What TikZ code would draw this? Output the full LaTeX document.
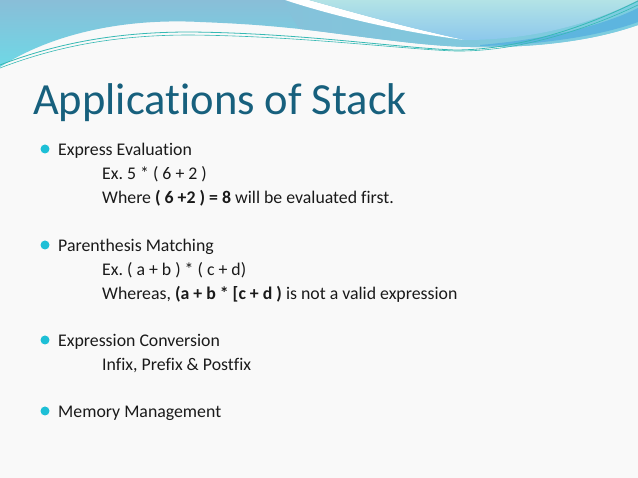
\documentclass[tikz,border=0pt]{standalone}
\usepackage{fontspec}
\setmainfont{Carlito}[Ligatures={NoCommon}]
\definecolor{slidebg}{HTML}{F9F9F9}
\definecolor{titleblue}{HTML}{17607D}
\definecolor{bodytext}{HTML}{1A1A1A}
\definecolor{bulletcyan}{HTML}{1DBFD6}
\definecolor{wavetop}{HTML}{89BED8}
\definecolor{wavelow}{HTML}{6ED8E6}
\definecolor{waveright}{HTML}{7CCEE0}
\definecolor{paletop}{HTML}{B3E3E6}
\definecolor{palelow}{HTML}{8CC8EC}
\definecolor{bandblue}{HTML}{5DB5DF}
\definecolor{tealline}{HTML}{36B9B4}

\tikzset{
  headline/.style={anchor=base west, inner sep=0pt, text=titleblue,
    font=\fontsize{44.5}{52}\selectfont},
  point/.style={anchor=base west, inner sep=0pt, text=bodytext,
    font=\fontsize{17.8}{21}\selectfont},
  dot/.style={circle, fill=bulletcyan, minimum size=9pt, inner sep=0pt}
}

\begin{document}
\frenchspacing
\begin{tikzpicture}[x=1pt,y=-1pt]
\useasboundingbox (0,0) rectangle (638,478);
\fill [slidebg] (0,0) rectangle (638,478);
% waves at the top
\shade [top color=wavetop, bottom color=wavelow]
  (0,0) -- (638,0) -- (638,25) .. controls (590,42) and (530,48) .. (470,47)
  .. controls (420,46) and (360,36) .. (300,29)
  .. controls (270,26) and (250,24) .. (200,22)
  .. controls (120,18) and (50,35) .. (0,67) -- cycle;
\shade [left color=wavetop!85!wavelow, right color=waveright]
  (285,0) .. controls (330,15) and (400,32) .. (465,40)
  .. controls (530,40) and (590,25) .. (638,1) -- (638,25)
  .. controls (590,42) and (530,48) .. (470,47)
  .. controls (420,46) and (360,36) .. (300,29)
  .. controls (292,20) and (288,8) .. (285,0) -- cycle;
\fill [white]
  (285,0) .. controls (330,15) and (400,32) .. (465,40)
  .. controls (400,26) and (345,10) .. (309,0) -- cycle;
\shade [top color=paletop, bottom color=palelow]
  (309,0) -- (638,0) .. controls (590,25) and (530,40) .. (465,40)
  .. controls (400,26) and (345,10) .. (309,0) -- cycle;
\fill [bandblue]
  (480,45) .. controls (560,38) and (610,22) .. (638,8) -- (638,22)
  .. controls (600,36) and (540,45) .. (480,46) -- cycle;
\draw [tealline, line width=0.8pt]
  (0,65) .. controls (60,42) and (120,32) .. (190,32)
  .. controls (300,33) and (400,48) .. (455,50)
  .. controls (520,50) and (590,25) .. (638,1);
\draw [tealline, line width=0.6pt]
  (0,68) .. controls (60,45) and (120,35) .. (190,35)
  .. controls (300,36) and (400,49) .. (455,51)
  .. controls (520,52) and (590,28) .. (638,5);
% title
\node [headline] (title) at (33,115) {Applications of Stack};
% first point
\node [dot] (dot1) at (45,149) {};
\node [point] (eval) at (58,156) {Express Evaluation};
\node [point] (evalex) at (102,180) {Ex. 5 * ( 6 + 2 )};
\node [point] (evalnote) at (102,204) {Where \textbf{( 6 +2 ) = 8} will be evaluated first.};
% second point
\node [dot] (dot2) at (45,245) {};
\node [point] (paren) at (58,252) {Parenthesis Matching};
\node [point] (parenex) at (102,276) {Ex. ( a + b ) * ( c + d)};
\node [point] (parennote) at (102,300) {Whereas, \textbf{(a + b * [c + d )} is not a valid expression};
% third point
\node [dot] (dot3) at (45,340) {};
\node [point] (conv) at (58,347) {Expression Conversion};
\node [point] (convex) at (102,371) {Infix, Prefix \& Postfix};
% fourth point
\node [dot] (dot4) at (45,411) {};
\node [point] (memory) at (58,418) {Memory Management};
\end{tikzpicture}
\end{document}
